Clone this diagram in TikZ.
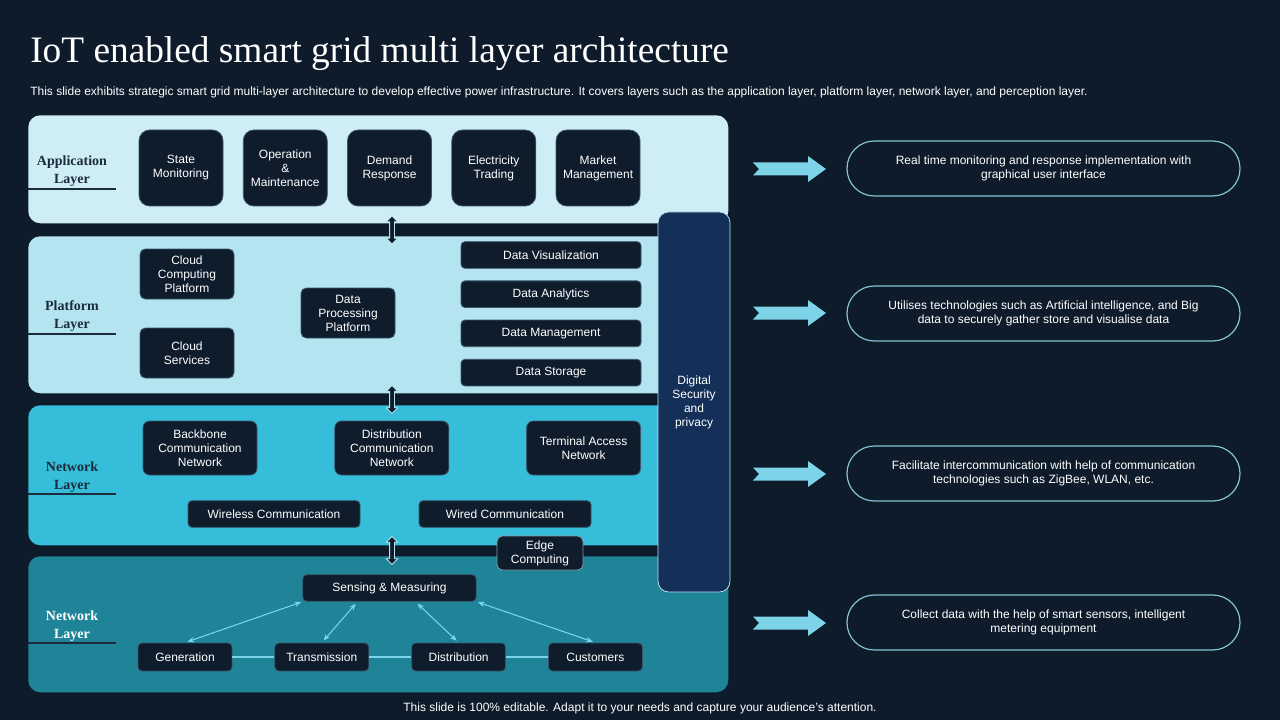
\documentclass[tikz,border=0pt]{standalone}
\usepackage{fontspec}
\setmainfont{Liberation Serif}
\setsansfont{Liberation Sans}
\usetikzlibrary{shapes.arrows, arrows.meta, positioning}

\definecolor{bgnavy}{HTML}{0D1B2A}
\definecolor{boxnavy}{HTML}{0E1C2C}
\definecolor{boxedge}{HTML}{3A576C}
\definecolor{appfill}{HTML}{CFEDF4}
\definecolor{platfill}{HTML}{B4E4F0}
\definecolor{netfill}{HTML}{36BDD9}
\definecolor{percfill}{HTML}{1F8498}
\definecolor{secfill}{HTML}{142F58}
\definecolor{secedge}{HTML}{B8E2EE}
\definecolor{skyline}{HTML}{7DD3E8}
\definecolor{pilledge}{HTML}{86C3D3}
\definecolor{labeltext}{HTML}{1B2B3B}

\tikzstyle{panel} = [rectangle, rounded corners=9pt, minimum width=525pt, anchor=north west, inner sep=0pt]
\tikzstyle{layername} = [font=\rmfamily\bfseries\fontsize{10.5}{13.5}\selectfont, align=center, text=labeltext]
\tikzstyle{labelline} = [line width=1.5pt, labeltext]
\tikzstyle{darkbox} = [rectangle, fill=boxnavy, draw=boxedge, line width=0.6pt, text=white, align=center, font=\sffamily\fontsize{9}{10.5}\selectfont, inner sep=0pt]
\tikzstyle{appbox} = [darkbox, rounded corners=8pt, minimum width=63pt, minimum height=57pt]
\tikzstyle{platbox} = [darkbox, rounded corners=4pt, minimum width=70.5pt, minimum height=37.5pt]
\tikzstyle{databar} = [darkbox, rounded corners=3pt, minimum width=135pt, minimum height=20pt]
\tikzstyle{netbox} = [darkbox, rounded corners=5pt, minimum width=85.5pt, minimum height=40.5pt]
\tikzstyle{linkbar} = [darkbox, rounded corners=3pt, minimum width=129pt, minimum height=20pt]
\tikzstyle{edgebox} = [darkbox, draw=boxedge!60!white, rounded corners=4pt, minimum width=64.5pt, minimum height=25.5pt]
\tikzstyle{flowbox} = [darkbox, rounded corners=3pt, minimum width=70.5pt, minimum height=21pt]
\tikzstyle{updown} = [shape=double arrow, rotate=90, fill=boxnavy, draw=secedge, line width=0.6pt, minimum height=21pt, inner sep=1.5pt, double arrow head extend=2.5pt]
\tikzstyle{wire} = [skyline, line width=0.8pt]
\tikzstyle{sensearrow} = [skyline, line width=0.8pt, {Stealth[length=5pt,width=4pt]}-{Stealth[length=5pt,width=4pt]}]
\tikzstyle{pill} = [rectangle, rounded corners=20.5pt, draw=pilledge, line width=0.9pt, fill=bgnavy, minimum width=294.75pt, minimum height=41.25pt, align=center, text=white, font=\sffamily\fontsize{9}{10.5}\selectfont]

\begin{document}
\begin{tikzpicture}[x=0.75pt, y=-0.75pt]

    % Background
    \fill[bgnavy] (0,0) rectangle (1280,720);
    \useasboundingbox (0,0) rectangle (1280,720);

    % Title
    \node (title) [anchor=base west, inner sep=0pt, text=white, font=\rmfamily\fontsize{28}{30}\selectfont] at (30,63) {IoT enabled smart grid multi layer architecture};
    \node (subtitle) [anchor=west, inner sep=0pt, text=white, font=\sffamily\fontsize{9}{10}\selectfont] at (30,92) {This slide exhibits strategic smart grid multi-layer architecture to develop effective power infrastructure. It covers layers such as the application layer, platform layer, network layer, and perception layer.};

    % Layer panels
    \node (applayer) [panel, fill=appfill, minimum height=81pt] at (28,115) {};
    \node (platlayer) [panel, fill=platfill, minimum height=117.75pt] at (28,236) {};
    \node (netlayer) [panel, fill=netfill, minimum height=105pt] at (28,405) {};
    \node (perclayer) [panel, fill=percfill, minimum height=102pt] at (28,556) {};

    % Layer names
    \node (appname) [layername] at (72,171) {Application\\Layer};
    \draw [labelline] (28,189) -- (116,189);
    \node (platname) [layername] at (72,316) {Platform\\Layer};
    \draw [labelline] (28,334) -- (116,334);
    \node (netname) [layername] at (72,477) {Network\\Layer};
    \draw [labelline] (28,494) -- (116,494);
    \node (percname) [layername, text=white] at (72,626) {Network\\Layer};
    \draw [labelline] (28,643) -- (116,643);

    % Application layer
    \node (state) [appbox] at (181,168) {State\\Monitoring};
    \node (operation) [appbox, right=14.6pt of state] {Operation\\\&\\Maintenance};
    \node (demand) [appbox, right=14.6pt of operation] {Demand\\Response};
    \node (trading) [appbox, right=14.6pt of demand] {Electricity\\Trading};
    \node (market) [appbox, right=14.6pt of trading] {Market\\Management};

    % Platform layer
    \node (cloudcomp) [platbox] at (187,274) {Cloud\\Computing\\Platform};
    \node (cloudserv) [platbox] at (187,353) {Cloud\\Services};
    \node (dataproc) [platbox] at (348,313) {Data\\Processing\\Platform};
    \node (dataviz) [databar] at (551,255) {Data Visualization};
    \node (datanaly) [databar, below=8.8pt of dataviz] {Data Analytics};
    \node (datamgmt) [databar, below=8.8pt of datanaly] {Data Management};
    \node (datastor) [databar, below=8.8pt of datamgmt] {Data Storage};

    % Network layer
    \node (backbone) [netbox] at (200,448) {Backbone\\Communication\\Network};
    \node (distcomm) [netbox, right=57.75pt of backbone] {Distribution\\Communication\\Network};
    \node (terminal) [netbox, right=57.75pt of distcomm] {Terminal Access\\Network};
    \node (wireless) [linkbar] at (274,514) {Wireless Communication};
    \node (wired) [linkbar] at (505,514) {Wired Communication};
    \node (edge) [edgebox] at (540,553) {Edge\\Computing};

    % Perception layer
    \node (sense) [flowbox, minimum width=130pt, minimum height=20pt] at (389.5,588) {Sensing \& Measuring};
    \node (generation) [flowbox] at (185,657) {Generation};
    \node (transmission) [flowbox, right=31.5pt of generation] {Transmission};
    \node (distribution) [flowbox, right=31.5pt of transmission] {Distribution};
    \node (customers) [flowbox, right=31.5pt of distribution] {Customers};

    % Security
    \node (security) [darkbox, fill=secfill, draw=secedge, rounded corners=8pt, minimum width=54pt, minimum height=285pt] at (694,402) {Digital\\Security\\and\\privacy};

    % Links between layers
    \node (link1) [updown] at (392,230) {};
    \node (link2) [updown] at (392,399.5) {};
    \node (link3) [updown] at (392,550.5) {};

    % ==== Arrows
    \draw [wire] (generation) -- (transmission);
    \draw [wire] (transmission) -- (distribution);
    \draw [wire] (distribution) -- (customers);

    \draw [sensearrow, shorten <=1pt, shorten >=2pt] (sense.south west) -- (generation.north);
    \draw [sensearrow, shorten <=2pt, shorten >=2pt] ([xshift=-24pt]sense.south) -- (transmission.north);
    \draw [sensearrow, shorten <=2pt, shorten >=2pt] ([xshift=19.5pt]sense.south) -- (distribution.north);
    \draw [sensearrow, shorten <=1pt, shorten >=2pt] (sense.south east) -- (customers.north);

    % Side arrows
    \foreach \yy in {169,313,474,623}
        \fill [skyline] (753,\yy-6.5) -- (808,\yy-6.5) -- (808,\yy-13) -- (826,\yy) -- (808,\yy+13) -- (808,\yy+6.5) -- (753,\yy+6.5) -- (759,\yy) -- cycle;

    % Descriptions
    \node (pill1) [pill] at (1043.5,168.5) {Real time monitoring and response implementation with\\graphical user interface};
    \node (pill2) [pill] at (1043.5,313.5) {Utilises technologies such as Artificial intelligence, and Big\\data to securely gather store and visualise data};
    \node (pill3) [pill] at (1043.5,473.5) {Facilitate intercommunication with help of communication\\technologies such as ZigBee, WLAN, etc.};
    \node (pill4) [pill] at (1043.5,622.5) {Collect data with the help of smart sensors, intelligent\\metering equipment};

    % Footer
    \node (footer) [text=white, font=\sffamily\fontsize{9}{10}\selectfont] at (640,708) {This slide is 100\% editable. Adapt it to your needs and capture your audience's attention.};

\end{tikzpicture}
\end{document}
